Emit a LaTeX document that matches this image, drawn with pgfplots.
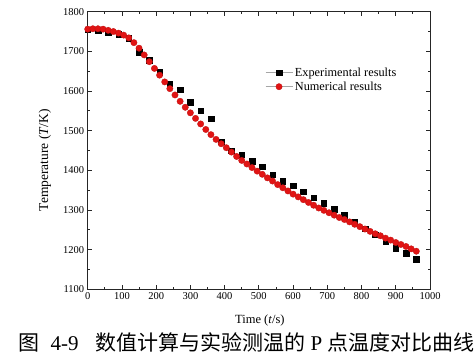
\documentclass[border=0pt]{standalone}
\usepackage{fontspec}
\setmainfont{Liberation Serif}
\newfontfamily\cjk{Noto Sans CJK SC}
\usepackage{pgfplots}
\pgfplotsset{compat=1.18}
\definecolor{numred}{RGB}{225,20,20}
\pgfplotsset{greyleg/.style={legend image code/.code={\draw[gray!70,line width=0.7pt] (0pt,0pt) -- (27pt,0pt); \draw[##1] plot coordinates {(13.5pt,0pt)};}}}
\begin{document}
\begin{tikzpicture}[x=1pt,y=1pt]
\useasboundingbox (0,0) rectangle (474,361);
\begin{axis}[
  at={(87.7pt,71.7pt)}, anchor=south west,
  scale only axis, width=342.3pt, height=277.6pt,
  xmin=0, xmax=1000, ymin=1100, ymax=1800,
  xtick={0,100,...,1000}, ytick={1100,1200,...,1800},
  minor x tick num=1, minor y tick num=1,
  tick align=inside,
  major tick length=4pt, minor tick length=2.2pt,
  axis line style={line width=0.9pt, black!85},
  every tick/.style={black!85, line width=0.8pt},
  /pgf/number format/assume math mode=true,
  /pgf/number format/1000 sep={},
  tick label style={font=\fontsize{10.5}{12}\selectfont},
  xlabel={Time (\textit{t}/s)}, ylabel={Temperature (\textit{T}/K)},
  xlabel style={font=\fontsize{12.5}{14}\selectfont, at={(axis description cs:0.503,-0.112)}, anchor=center},
  ylabel style={font=\fontsize{13.5}{15}\selectfont, at={(axis description cs:-0.125,0.465)}, anchor=center},
  legend style={draw=none, fill=none, at={(axis description cs:0.515,0.81)}, anchor=north west,
    font=\fontsize{12.3}{14}\selectfont, row sep=0pt, inner sep=1pt},
  legend cell align=left,
]
\addplot[only marks, mark=square*, mark size=2.8pt, black, mark options={fill=black}, greyleg]
coordinates {
(0,1755) (30,1752) (60,1748) (90,1744) (120,1733) (150,1698) (180,1677) (210,1648)
(240,1618) (270,1603) (300,1572) (330,1550) (360,1530) (390,1472) (420,1450) (450,1439)
(480,1423) (510,1409) (540,1389) (570,1373) (600,1361) (630,1346) (660,1331) (690,1317)
(720,1302) (750,1287) (780,1269) (810,1253) (840,1238) (870,1221) (900,1203) (930,1191)
(960,1176)
};
\addlegendentry{Experimental results}
\addplot[only marks, mark=*, mark size=3.2pt, numred, mark options={fill=numred, draw=numred!85!black, line width=0.3pt}, greyleg]
coordinates {
(0,1756) (15,1757) (30,1757) (45,1756) (60,1753) (75,1750) (90,1746) (105,1741)
(120,1734) (135,1722) (150,1708) (165,1691) (180,1674) (195,1657) (210,1640) (225,1623)
(240,1606) (255,1590) (270,1574) (285,1559) (300,1545) (315,1531) (330,1517) (345,1503)
(360,1490) (375,1478) (390,1467) (405,1457) (420,1446) (435,1435) (450,1425) (465,1416)
(480,1407) (495,1398) (510,1390) (525,1381) (540,1373) (555,1364) (570,1356) (585,1348)
(600,1340) (615,1333) (630,1326) (645,1319) (660,1312) (675,1305) (690,1299) (705,1293)
(720,1287) (735,1281) (750,1276) (765,1270) (780,1264) (795,1258) (810,1252) (825,1246)
(840,1240) (855,1235) (870,1229) (885,1224) (900,1218) (915,1213) (930,1208) (945,1202)
(960,1196)
};
\addlegendentry{Numerical results}
\end{axis}
\node[font=\fontsize{21}{23}\selectfont, anchor=west] at (15,19)
  {{\cjk 图}\hspace{11pt}4-9\hspace{17pt}{\cjk 数值计算与实验测温的}\hspace{5pt}P\hspace{5pt}{\cjk 点温度对比曲线}};
\end{tikzpicture}
\end{document}
